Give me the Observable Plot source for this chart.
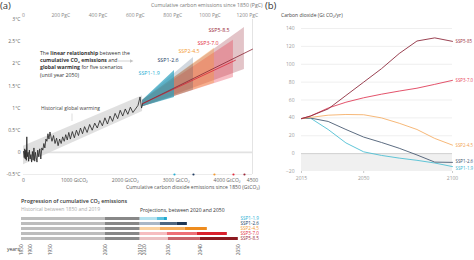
<!DOCTYPE html>
<html><head><meta charset="utf-8">
<script src="https://cdn.jsdelivr.net/npm/d3@7"></script>
<script src="https://cdn.jsdelivr.net/npm/@observablehq/plot@0.6"></script>
<style>
html,body{margin:0;padding:0;background:#fff;}
#root{position:relative;width:474px;height:260px;overflow:hidden;font-family:"Open Sans",sans-serif;}
.t{position:absolute;white-space:nowrap;line-height:1.15;}
#root svg{overflow:visible;}
</style></head><body><div id="root"></div>
<script>
// ---------------- Panel (a) data ----------------
const scenarios = ["SSP1-1.9","SSP1-2.6","SSP2-4.5","SSP3-7.0","SSP5-8.5"];
const scenarioColors = ["#27aed3","#203c62","#f39a33","#e22b3d","#9a2a3a"];

// historical warming vs cumulative emissions (GtCO2, °C)
const histGt = [0,15,25,35,45,55,65,75,90,100,115,130,145,160,175,190,205,220,235,250,265,280,300,320,340,360,380,400,420,440,460,480,500,520,540,560,590,620,650,680,710,740,770,800,830,860,890,920,960,1000,1040,1080,1120,1160,1200,1250,1300,1350,1400,1450,1500,1550,1600,1650,1700,1750,1800,1850,1900,1950,2000,2050,2100,2150,2200,2250,2290,2320,2340];
const histT  = [0.02,-0.12,0.08,-0.15,0.05,-0.18,0.35,-0.1,0.0,-0.2,0.05,-0.15,-0.05,-0.22,0.02,-0.18,0.1,-0.2,0.0,-0.12,-0.22,0.05,-0.1,0.08,-0.15,0.1,0.05,0.2,0.1,0.3,0.25,0.42,0.3,0.46,0.35,0.25,0.38,0.2,0.32,0.15,0.3,0.2,0.35,0.25,0.4,0.28,0.45,0.3,0.47,0.33,0.5,0.38,0.55,0.42,0.58,0.45,0.63,0.5,0.66,0.55,0.72,0.6,0.78,0.64,0.82,0.7,0.88,0.76,0.95,0.82,0.98,0.86,1.02,0.9,0.98,1.06,1.25,1.0,1.1];

const histBandGt = [0, 2340];
const histBandLo = [-0.28, 0.92];
const histBandHi = [0.14, 1.28];

const fanStartGt = 2340;
const fanStartLo = 1.03;
const fanStartHi = 1.17;
const fanEndGt = [2967, 3340, 3752, 4126, 4342];
const fanEndLo = [1.24, 1.40, 1.56, 1.69, 1.87];
const fanEndHi = [1.85, 2.14, 2.35, 2.53, 2.82];
const bandFill = ["#2a9fbd","#1e3a60","#f7942a","#e3263a","#9b2b3a"];
const bandOpacity = [0.7, 0.2, 0.35, 0.3, 0.28];

const medianScenarios = ["SSP3-7.0","SSP5-8.5"];
const medianStartT = 1.1;
const medianEndGt = [4165, 4500];
const medianEndT = [2.08, 2.33];
const medianColors = ["#d8283a","#8a2433"];

const yTicksA = [-0.5, 0, 0.5, 1, 1.5, 2, 2.5, 3];
const yTickLabelsA = ["-0.5°C","0","0.5°C","1°C","1.5°C","2°C","2.5°C","3°C"];
const gtTicks = [0, 1000, 2000, 3000, 4000, 4500];
const gtTickLabels = ["0","1000 GtCO₂","2000 GtCO₂","3000 GtCO₂","4000 GtCO₂","4500"];
const pgcTicks = [0, 200, 400, 600, 800, 1000, 1200];
const pgcTickLabels = ["0","200 PgC","400 PgC","600 PgC","800 PgC","1000 PgC","1200 PgC"];
const gtPerPgC = 3.664;

// ---------------- Panel (a) progression bars ----------------
const histSplitGt = [1690, 2390];          // cumulative reached in 2000 and 2019
const cum2030 = [2736, 2797, 2797, 2938, 2958];
const cum2040 = [2880, 3139, 3300, 3541, 3600];
const cum2050 = [2938, 3340, 3742, 4145, 4366];
const histShades = ["#bdbdbd", "#888888"];
const projShades = [
  ["#b4e1ee","#5cc2df","#1ea8cf"],
  ["#aab7c6","#4f6781","#1d3553"],
  ["#fbd3a2","#f6ad5a","#ee8c1e"],
  ["#f6bdc0","#ee6f77","#d9202c"],
  ["#ecc0c2","#c8636a","#8c1a20"]
];
const yearTickGt = [0, 181, 583, 1690, 2390, 2470, 2958, 3600, 4366];
const yearTickLabels = ["1850","1900","1950","2000","2019","2020","2030","2040","2050"];

// ---------------- Panel (b) data ----------------
const years = [2015, 2020, 2030, 2040, 2050, 2060, 2070, 2080, 2090, 2100];
const co2_ssp119 = [39.2, 39.8, 27, 12, 2, -2, -5, -7.5, -10.5, -14.5];
const co2_ssp126 = [39.2, 39.8, 36, 27, 18.5, 12.5, 6, -1.5, -9.5, -9.8];
const co2_ssp245 = [39.2, 40.5, 43, 43.8, 43.5, 40, 34, 27, 17, 9.5];
const co2_ssp370 = [39.2, 42, 51, 57.5, 62.5, 66.5, 70, 73.2, 77.5, 82];
const co2_ssp585 = [39.2, 42, 50, 65, 80, 95, 112, 126, 129.5, 125.6];
const seriesB = [co2_ssp119, co2_ssp126, co2_ssp245, co2_ssp370, co2_ssp585];
const labelsB = ["SSP1-1.9","SSP1-2.6","SSP2-4.5","SSP3-7.0","SSP5-85"];
const lineColorsB = ["#4fbfd4","#4a5b73","#f5b06a","#e0405a","#8f2c3e"];
const labelColorsB = ["#39b4d0","#3a4f6a","#f2a050","#e8455a","#9c2f3f"];
const labelDyB = [2, -1, 0, 0, 0];
const yTicksB = [-20, 0, 20, 40, 60, 80, 100, 120, 140];
const gridB = [20, 40, 60, 80, 100, 120, 140];
const xTicksB = [2015, 2050, 2100];
const negBand = [{from: -20, to: 0}];

const root = document.getElementById("root");
function place(el, left, top) {
  el.style.position = "absolute";
  el.style.left = left + "px";
  el.style.top = top + "px";
  root.appendChild(el);
}
function addText(html, left, top, css) {
  const d = document.createElement("div");
  d.className = "t";
  d.innerHTML = html;
  d.style.cssText += css;
  d.style.left = left + "px";
  d.style.top = top + "px";
  root.appendChild(d);
}

// ---------- Chart A ----------
const histData = histGt.map((g, i) => ({g, t: histT[i]}));
const histBand = histBandGt.map((g, i) => ({g, lo: histBandLo[i], hi: histBandHi[i]}));
const fanMarks = [];
for (let i = scenarios.length - 1; i >= 0; i--) {
  const pts = [{g: fanStartGt, lo: fanStartLo, hi: fanStartHi}, {g: fanEndGt[i], lo: fanEndLo[i], hi: fanEndHi[i]}];
  fanMarks.push(Plot.areaY(pts, {x: "g", y1: "lo", y2: "hi", fill: bandFill[i], fillOpacity: bandOpacity[i]}));
}
const medianMarks = medianScenarios.map((s, i) =>
  Plot.line([{g: fanStartGt, t: medianStartT}, {g: medianEndGt[i], t: medianEndT[i]}], {x: "g", y: "t", stroke: medianColors[i], strokeWidth: 0.8})
);
const pgcTickGt = pgcTicks.map(p => p * gtPerPgC);

const chartA = Plot.plot({
  width: 260, height: 195,
  marginLeft: 23, marginRight: 8, marginTop: 19, marginBottom: 21,
  x: {domain: [0, 4500]},
  y: {domain: [-0.5, 3]},
  color: {type: "identity"},
  style: {fontFamily: "Open Sans", fontSize: "5px", color: "#666", background: "transparent"},
  marks: [
    Plot.ruleY([-0.5], {stroke: "#ececec"}),
    Plot.ruleY([0], {stroke: "#e2e2e2", strokeWidth: 1.6}),
    Plot.ruleX([4500], {stroke: "#e4e4e4"}),
    Plot.areaY(histBand, {x: "g", y1: "lo", y2: "hi", fill: "#d6d6d6", fillOpacity: 0.75}),
    ...fanMarks,
    Plot.line(histData, {x: "g", y: "t", stroke: "#222", strokeWidth: 0.8}),
    ...medianMarks,
    Plot.dot(scenarios, {x: (d, i) => fanEndGt[i], frameAnchor: "bottom", fill: (d, i) => scenarioColors[i], r: 1.1}),
    Plot.text(scenarios, {x: (d, i) => fanEndGt[i], y: (d, i) => fanEndHi[i], text: d => d, fill: (d, i) => scenarioColors[i], dx: -36, dy: 3, textAnchor: "start", fontSize: 5.3}),
    Plot.axisY(yTicksA, {anchor: "left", tickSize: 0, tickPadding: 3, tickFormat: d => yTickLabelsA[yTicksA.indexOf(d)], fontSize: 5, fill: "#666", label: null}),
    Plot.axisX(gtTicks, {anchor: "bottom", tickSize: 0, tickPadding: 4, tickFormat: d => gtTickLabels[gtTicks.indexOf(d)], fontSize: 5, fill: "#666", label: null}),
    Plot.axisX(pgcTickGt, {anchor: "top", tickSize: 0, tickPadding: 3, tickFormat: d => pgcTickLabels[pgcTickGt.indexOf(d)], fontSize: 5, fill: "#888", label: null})
  ]
});
place(chartA, 0, 0);

// ---------- Chart A bottom: progression ----------
const segs = [];
scenarios.forEach((s, i) => {
  const bounds = [0, histSplitGt[0], histSplitGt[1], cum2030[i], cum2040[i], cum2050[i]];
  const fills = [histShades[0], histShades[1], ...projShades[i]];
  for (let k = 0; k < 5; k++) segs.push({s, x1: bounds[k], x2: bounds[k + 1], fill: fills[k]});
});
const chartP = Plot.plot({
  width: 260, height: 65,
  marginLeft: 21, marginRight: 21, marginTop: 19.7, marginBottom: 17.8,
  x: {domain: [0, 4390]},
  y: {domain: scenarios, padding: 0.4, axis: null},
  color: {type: "identity"},
  style: {fontFamily: "Open Sans", fontSize: "5px", color: "#444", background: "transparent"},
  marks: [
    Plot.barX(segs, {y: "s", x1: "x1", x2: "x2", fill: "fill"}),
    Plot.text(scenarios, {y: d => d, frameAnchor: "right", textAnchor: "start", dx: 1, text: d => d, fill: (d, i) => scenarioColors[i], fontSize: 4.6}),
    Plot.axisX(yearTickGt, {anchor: "bottom", tickRotate: -90, tickSize: 0, tickPadding: 1.5, tickFormat: d => yearTickLabels[yearTickGt.indexOf(d)], fontSize: 4.8, fill: "#555", label: null})
  ]
});
place(chartP, 0, 195);

// ---------- Chart B ----------
const lineMarksB = seriesB.map((vals, i) =>
  Plot.line(years.map((yr, j) => ({yr, v: vals[j]})), {x: "yr", y: "v", stroke: lineColorsB[i], strokeWidth: 0.9})
);
const labelMarksB = seriesB.map((vals, i) =>
  Plot.text([{yr: years[years.length - 1], v: vals[vals.length - 1]}], {x: "yr", y: "v", text: () => labelsB[i], fill: labelColorsB[i], dx: 3, dy: labelDyB[i], textAnchor: "start", fontSize: 4.4})
);
const chartB = Plot.plot({
  width: 214, height: 190,
  marginLeft: 41, marginRight: 22, marginTop: 28, marginBottom: 19,
  x: {domain: [2015, 2100]},
  y: {domain: [-20, 140]},
  style: {fontFamily: "Open Sans", fontSize: "5px", color: "#888", background: "transparent"},
  marks: [
    Plot.rectY(negBand, {y1: "from", y2: "to", fill: "#f0f0f0"}),
    Plot.ruleY(gridB, {stroke: "#ebebeb", strokeWidth: 0.8}),
    Plot.ruleY([0], {stroke: "#d0d0d0", strokeWidth: 1}),
    ...lineMarksB,
    ...labelMarksB,
    Plot.axisY(yTicksB, {anchor: "left", tickSize: 0, tickPadding: 7, fontSize: 5, fill: "#999", label: null}),
    Plot.axisX(xTicksB, {anchor: "bottom", tickSize: 2, tickPadding: 3, tickFormat: d => String(d), fontSize: 5, fill: "#999", stroke: "#ccc", label: null})
  ]
});
place(chartB, 260, 0);

// ---------- Texts / annotations ----------
addText("(a)", 0, 1, "font-size:9.5px;color:#333;");
addText("(b)", 265, 1, "font-size:9.5px;color:#333;");
addText("Cumulative carbon emissions since 1850 (PgC)", 151, 2.5, "font-size:5.2px;color:#777;");
addText("The <b>linear relationship</b> between the<br><b>cumulative CO₂ emissions</b> and<br><b>global warming</b> for five scenarios<br>(until year 2050)", 40, 50, "font-size:5.2px;line-height:7.2px;color:#333;");
addText("Historical global warming", 41, 106, "font-size:5px;color:#444;");
addText("Cumulative carbon dioxide emissions since 1850 (GtCO₂)", 126, 185, "font-size:5.1px;color:#555;");
addText("Progression of cumulative CO₂ emissions", 21, 197.5, "font-size:5.4px;font-weight:600;color:#333;");
addText("Historical between 1850 and 2019", 21, 207, "font-size:5px;color:#aaa;");
addText("Projections, between 2020 and 2050", 140, 208, "font-size:5px;color:#333;");
addText("years", 7, 247, "font-size:5px;color:#333;");
addText("Carbon dioxide (Gt CO₂/yr)", 281, 13, "font-size:5px;color:#444;");

// annotation arrow and leader
const ns = "http://www.w3.org/2000/svg";
const ann = document.createElementNS(ns, "svg");
ann.setAttribute("width", "474"); ann.setAttribute("height", "260");
ann.style.position = "absolute"; ann.style.left = "0"; ann.style.top = "0";
ann.innerHTML = '<line x1="118" y1="61" x2="131" y2="61" stroke="#c4c4c4" stroke-width="0.8"/>' +
  '<path d="M130,59.3 L133.5,61 L130,62.7 Z" fill="#c4c4c4"/>' +
  '<line x1="72" y1="113.5" x2="72" y2="121" stroke="#c8c8c8" stroke-width="0.6"/>';
root.appendChild(ann);
</script></body></html>
